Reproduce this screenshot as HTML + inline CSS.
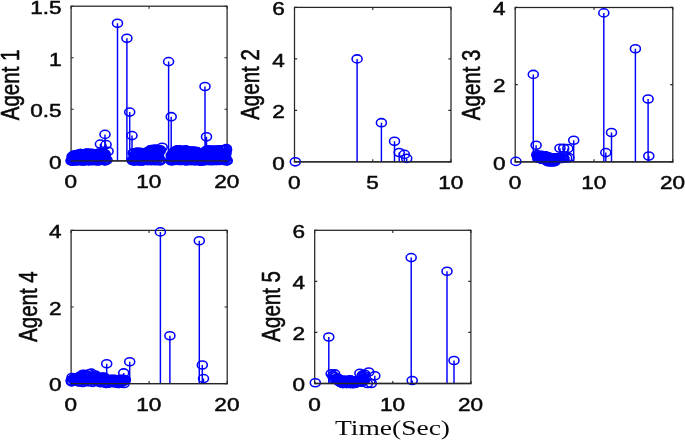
<!DOCTYPE html>
<html><head><meta charset="utf-8"><title>Agents</title>
<style>
html,body{margin:0;padding:0;background:#fff}
svg{display:block}
text{font-family:"Liberation Sans",Arial,Helvetica,sans-serif;font-size:18.5px;fill:#000;stroke:#000;stroke-width:0.5px}
.m{text-anchor:middle}.e{text-anchor:end}
.l{font-size:20.5px}
.s{font-family:"Liberation Serif","Times New Roman",serif;font-size:21.4px;stroke:none}
</style></head><body>
<svg width="685" height="440" viewBox="0 0 685 440">
<rect width="685" height="440" fill="#fff"/>
<g>
<rect x="71.1" y="6.2" width="156.0" height="154.7" fill="none" stroke="#262626" stroke-width="1.25"/>
<path d="M71.1 160.9v-2.6M71.1 6.2v2.6M149.1 160.9v-2.6M149.1 6.2v2.6M227.1 160.9v-2.6M227.1 6.2v2.6M71.1 160.9h2.6M227.1 160.9h-2.6M71.1 109.3h2.6M227.1 109.3h-2.6M71.1 57.8h2.6M227.1 57.8h-2.6M71.1 6.2h2.6M227.1 6.2h-2.6" stroke="#262626" stroke-width="1.1" fill="none"/>
<path d="M71.1 160.9V160.7M71.4 160.9V160.7M71.7 160.9V160.7M72.0 160.9V156.7M72.3 160.9V160.7M72.6 160.9V160.7M72.9 160.9V155.6M73.1 160.9V160.7M73.3 160.9V159.8M73.5 160.9V158.3M73.9 160.9V155.4M74.1 160.9V157.0M74.4 160.9V155.3M74.7 160.9V156.7M74.9 160.9V159.2M75.2 160.9V160.7M75.5 160.9V155.0M75.7 160.9V160.7M76.0 160.9V154.7M76.2 160.9V154.6M76.4 160.9V160.3M76.7 160.9V155.6M77.0 160.9V160.2M77.3 160.9V160.6M77.6 160.9V160.6M77.8 160.9V155.8M78.0 160.9V159.2M78.4 160.9V154.3M78.7 160.9V159.2M79.1 160.9V155.7M79.4 160.9V159.2M79.7 160.9V158.3M79.9 160.9V160.6M80.2 160.9V156.2M80.4 160.9V153.5M80.7 160.9V154.3M80.9 160.9V153.6M81.2 160.9V160.6M81.5 160.9V160.6M81.8 160.9V156.4M82.0 160.9V160.6M82.3 160.9V155.7M82.6 160.9V156.6M82.8 160.9V155.7M83.0 160.9V153.9M83.3 160.9V160.6M83.6 160.9V160.8M83.8 160.9V160.5M84.1 160.9V156.7M84.3 160.9V153.7M84.6 160.9V153.7M84.8 160.9V160.6M85.2 160.9V153.6M85.4 160.9V156.1M85.7 160.9V160.6M85.9 160.9V153.5M86.2 160.9V153.5M86.6 160.9V153.8M86.9 160.9V153.4M87.1 160.9V153.3M87.4 160.9V156.0M87.7 160.9V156.1M88.0 160.9V153.2M88.3 160.9V160.6M88.6 160.9V160.6M88.8 160.9V154.9M89.1 160.9V157.1M89.4 160.9V160.6M89.7 160.9V158.9M90.0 160.9V155.6M90.2 160.9V153.4M90.4 160.9V154.0M90.7 160.9V159.4M91.1 160.9V153.5M91.3 160.9V156.4M91.5 160.9V160.6M91.9 160.9V153.6M92.1 160.9V159.6M92.3 160.9V159.3M92.6 160.9V157.2M93.0 160.9V153.6M93.2 160.9V160.6M93.4 160.9V153.8M93.6 160.9V155.1M93.8 160.9V157.6M94.1 160.9V159.2M94.3 160.9V156.3M94.6 160.9V154.0M95.0 160.9V155.9M95.3 160.9V159.6M95.5 160.9V155.6M95.8 160.9V160.6M96.0 160.9V153.7M96.3 160.9V153.7M96.5 160.9V153.7M96.7 160.9V160.6M97.1 160.9V160.6M97.4 160.9V153.5M97.7 160.9V155.9M98.0 160.9V153.5M98.3 160.9V160.6M98.6 160.9V153.4M98.9 160.9V160.6M99.3 160.9V158.1M99.5 160.9V153.2M99.8 160.9V160.6M100.0 160.9V154.5M100.3 160.9V154.6M100.5 160.9V153.2M100.8 160.9V153.3M101.1 160.9V153.4M101.3 160.9V156.8M101.6 160.9V153.4M101.9 160.9V156.5M102.2 160.9V153.5M102.4 160.9V153.5M102.7 160.9V156.5M103.0 160.9V153.6M103.2 160.9V153.6M103.4 160.9V153.7M103.7 160.9V155.7M104.0 160.9V160.6M104.3 160.9V158.9M104.5 160.9V160.6M104.9 160.9V157.4M105.1 160.9V153.9M105.3 160.9V155.2M105.5 160.9V160.6M105.8 160.9V160.6M100.4 160.9V144.1M105.0 160.9V134.4M106.1 160.9V144.6M108.1 160.9V151.3M107.0 160.9V159.9M117.5 160.9V23.3M126.9 160.9V38.3M129.7 160.9V112.1M132.0 160.9V135.6M132.3 160.9V160.6M132.6 160.9V159.7M132.9 160.9V160.6M133.2 160.9V152.9M133.5 160.9V159.7M133.7 160.9V153.2M134.0 160.9V160.6M134.3 160.9V160.6M134.5 160.9V160.6M134.7 160.9V160.6M135.1 160.9V159.9M135.3 160.9V160.5M135.5 160.9V154.8M135.7 160.9V153.8M136.0 160.9V155.7M136.3 160.9V160.5M136.6 160.9V152.4M136.9 160.9V160.5M137.2 160.9V159.9M137.4 160.9V152.3M137.7 160.9V160.5M137.9 160.9V156.2M138.2 160.9V160.5M138.4 160.9V155.9M138.7 160.9V160.6M139.0 160.9V155.2M139.2 160.9V159.0M139.5 160.9V152.4M139.8 160.9V160.5M140.1 160.9V160.5M140.4 160.9V160.8M140.8 160.9V157.9M140.9 160.9V160.5M141.3 160.9V152.6M141.5 160.9V160.6M141.8 160.9V155.4M142.1 160.9V160.6M142.3 160.9V152.8M142.5 160.9V160.6M142.8 160.9V152.9M143.1 160.9V155.0M143.3 160.9V160.6M143.6 160.9V160.6M143.9 160.9V158.9M144.2 160.9V152.9M144.6 160.9V152.8M144.8 160.9V152.7M145.2 160.9V155.9M145.4 160.9V152.6M145.6 160.9V152.6M145.9 160.9V152.5M146.2 160.9V153.9M146.4 160.9V157.8M146.8 160.9V152.3M147.1 160.9V160.5M147.4 160.9V157.3M147.6 160.9V160.5M147.8 160.9V160.1M148.1 160.9V152.0M148.5 160.9V157.4M148.8 160.9V156.6M149.1 160.9V157.5M149.3 160.9V151.1M149.6 160.9V157.9M149.8 160.9V160.5M150.1 160.9V153.1M150.4 160.9V149.8M150.6 160.9V160.4M150.9 160.9V160.4M151.2 160.9V160.4M151.5 160.9V149.5M151.8 160.9V160.4M152.1 160.9V154.9M152.3 160.9V159.3M152.6 160.9V157.9M152.9 160.9V160.4M153.2 160.9V160.4M153.5 160.9V157.0M153.8 160.9V149.3M154.2 160.9V160.4M154.4 160.9V156.0M154.7 160.9V160.4M154.9 160.9V158.4M155.2 160.9V154.6M155.6 160.9V149.2M155.8 160.9V152.0M156.0 160.9V149.2M156.2 160.9V150.2M156.5 160.9V160.7M156.7 160.9V152.3M156.9 160.9V158.7M157.3 160.9V153.6M157.6 160.9V154.5M157.8 160.9V149.5M158.1 160.9V153.4M158.4 160.9V156.3M158.7 160.9V152.5M159.0 160.9V160.4M159.3 160.9V149.8M159.6 160.9V160.4M159.9 160.9V151.2M160.1 160.9V159.7M160.3 160.9V160.8M160.5 160.9V150.0M162.2 160.9V147.2M168.6 160.9V61.6M171.2 160.9V116.7M170.9 160.9V160.7M171.2 160.9V155.4M171.5 160.9V159.9M171.8 160.9V160.6M172.0 160.9V158.7M172.3 160.9V156.2M172.6 160.9V160.6M172.9 160.9V153.0M173.2 160.9V152.7M173.4 160.9V153.4M173.8 160.9V155.7M174.0 160.9V156.8M174.2 160.9V151.6M174.6 160.9V151.3M174.9 160.9V160.5M175.2 160.9V159.1M175.4 160.9V158.2M175.7 160.9V156.7M176.0 160.9V158.4M176.2 160.9V156.9M176.5 160.9V150.4M176.8 160.9V150.5M177.0 160.9V150.2M177.3 160.9V159.1M177.7 160.9V149.9M177.9 160.9V151.1M178.2 160.9V160.4M178.5 160.9V152.6M178.8 160.9V149.9M179.0 160.9V152.5M179.3 160.9V160.4M179.5 160.9V158.3M179.8 160.9V149.9M180.0 160.9V155.9M180.2 160.9V160.4M180.4 160.9V157.5M180.7 160.9V160.0M180.9 160.9V151.4M181.2 160.9V160.4M181.4 160.9V160.4M181.7 160.9V160.4M182.0 160.9V152.5M182.3 160.9V151.3M182.6 160.9V156.9M182.9 160.9V158.6M183.1 160.9V156.4M183.4 160.9V154.2M183.7 160.9V158.8M184.0 160.9V157.2M184.2 160.9V160.5M184.4 160.9V151.7M184.7 160.9V156.6M184.9 160.9V156.9M185.2 160.9V149.9M185.5 160.9V160.5M185.8 160.9V150.3M186.0 160.9V160.8M186.3 160.9V159.3M186.5 160.9V160.5M186.8 160.9V150.5M187.1 160.9V150.5M187.4 160.9V150.6M187.7 160.9V151.3M187.9 160.9V150.7M188.2 160.9V160.5M188.4 160.9V160.0M188.6 160.9V153.2M189.0 160.9V150.8M189.3 160.9V160.5M189.6 160.9V153.5M189.9 160.9V159.8M190.3 160.9V156.1M190.6 160.9V156.3M190.8 160.9V158.3M191.1 160.9V160.5M191.5 160.9V160.5M191.8 160.9V156.0M192.0 160.9V151.2M192.3 160.9V157.1M192.5 160.9V155.2M192.8 160.9V159.1M193.1 160.9V160.5M193.4 160.9V151.3M193.6 160.9V151.3M193.9 160.9V151.4M194.2 160.9V160.5M194.4 160.9V160.5M194.8 160.9V158.4M195.0 160.9V160.5M195.2 160.9V160.5M195.5 160.9V158.7M195.8 160.9V160.5M196.1 160.9V160.5M196.4 160.9V151.5M196.8 160.9V151.6M197.0 160.9V158.5M197.3 160.9V155.5M197.6 160.9V152.6M198.0 160.9V153.6M198.3 160.9V160.6M198.5 160.9V153.8M198.9 160.9V160.6M199.2 160.9V156.2M199.4 160.9V157.7M199.8 160.9V154.9M200.0 160.9V160.7M200.3 160.9V160.4M200.5 160.9V158.9M200.9 160.9V160.7M201.1 160.9V160.7M201.3 160.9V160.2M201.5 160.9V158.5M201.8 160.9V160.7M202.0 160.9V160.7M202.3 160.9V154.7M202.6 160.9V154.3M202.8 160.9V160.6M203.1 160.9V153.6M203.3 160.9V155.3M203.6 160.9V158.9M203.9 160.9V152.5M204.1 160.9V154.4M204.4 160.9V160.5M204.7 160.9V160.5M205.0 160.9V157.7M205.2 160.9V160.5M205.5 160.9V160.5M205.8 160.9V157.3M205.9 160.9V151.3M206.1 160.9V150.5M206.4 160.9V156.3M206.6 160.9V155.2M206.8 160.9V151.0M207.1 160.9V150.4M207.3 160.9V150.4M207.6 160.9V150.4M207.9 160.9V152.5M208.1 160.9V150.4M208.4 160.9V160.5M208.6 160.9V156.2M208.9 160.9V160.5M209.2 160.9V150.3M209.5 160.9V150.3M209.8 160.9V150.3M210.1 160.9V154.8M210.3 160.9V156.1M210.6 160.9V160.4M211.0 160.9V160.5M211.2 160.9V152.3M211.5 160.9V160.3M211.8 160.9V150.2M212.0 160.9V160.5M212.3 160.9V150.2M212.6 160.9V151.1M212.9 160.9V160.4M213.2 160.9V160.4M213.5 160.9V155.2M213.8 160.9V153.7M214.0 160.9V160.4M214.3 160.9V155.6M214.7 160.9V160.4M214.9 160.9V150.0M215.3 160.9V152.7M215.5 160.9V160.4M215.9 160.9V153.3M216.2 160.9V158.1M216.4 160.9V152.7M216.7 160.9V160.4M216.9 160.9V160.4M217.2 160.9V150.0M217.5 160.9V160.4M217.8 160.9V158.9M218.1 160.9V150.0M218.4 160.9V154.4M218.7 160.9V155.1M219.0 160.9V158.1M219.2 160.9V152.3M219.5 160.9V160.4M219.8 160.9V160.4M220.1 160.9V158.4M220.4 160.9V149.9M220.6 160.9V149.9M220.8 160.9V158.1M221.1 160.9V157.8M221.5 160.9V155.8M221.8 160.9V159.6M222.1 160.9V149.9M222.3 160.9V149.9M222.6 160.9V152.7M222.9 160.9V149.9M223.2 160.9V160.4M223.5 160.9V149.9M223.8 160.9V150.0M224.1 160.9V160.4M224.4 160.9V160.4M224.6 160.9V158.6M224.9 160.9V156.5M225.2 160.9V149.7M225.5 160.9V156.0M225.8 160.9V158.5M226.1 160.9V153.1M226.4 160.9V160.7M226.6 160.9V149.8M227.0 160.9V160.4M205.0 160.9V86.5M206.5 160.9V136.8M227.1 160.9V160.9M226.3 160.9V148.5" stroke="#0000ff" stroke-width="1.45" fill="none"/>
<g fill="none" stroke="#0000ff" stroke-width="1.55"><ellipse cx="71.1" cy="160.7" rx="5" ry="4.05"/><ellipse cx="71.4" cy="160.7" rx="5" ry="4.05"/><ellipse cx="71.7" cy="160.7" rx="5" ry="4.05"/><ellipse cx="72.0" cy="156.7" rx="5" ry="4.05"/><ellipse cx="72.3" cy="160.7" rx="5" ry="4.05"/><ellipse cx="72.6" cy="160.7" rx="5" ry="4.05"/><ellipse cx="72.9" cy="155.6" rx="5" ry="4.05"/><ellipse cx="73.1" cy="160.7" rx="5" ry="4.05"/><ellipse cx="73.3" cy="159.8" rx="5" ry="4.05"/><ellipse cx="73.5" cy="158.3" rx="5" ry="4.05"/><ellipse cx="73.9" cy="155.4" rx="5" ry="4.05"/><ellipse cx="74.1" cy="157.0" rx="5" ry="4.05"/><ellipse cx="74.4" cy="155.3" rx="5" ry="4.05"/><ellipse cx="74.7" cy="156.7" rx="5" ry="4.05"/><ellipse cx="74.9" cy="159.2" rx="5" ry="4.05"/><ellipse cx="75.2" cy="160.7" rx="5" ry="4.05"/><ellipse cx="75.5" cy="155.0" rx="5" ry="4.05"/><ellipse cx="75.7" cy="160.7" rx="5" ry="4.05"/><ellipse cx="76.0" cy="154.7" rx="5" ry="4.05"/><ellipse cx="76.2" cy="154.6" rx="5" ry="4.05"/><ellipse cx="76.4" cy="160.3" rx="5" ry="4.05"/><ellipse cx="76.7" cy="155.6" rx="5" ry="4.05"/><ellipse cx="77.0" cy="160.2" rx="5" ry="4.05"/><ellipse cx="77.3" cy="160.6" rx="5" ry="4.05"/><ellipse cx="77.6" cy="160.6" rx="5" ry="4.05"/><ellipse cx="77.8" cy="155.8" rx="5" ry="4.05"/><ellipse cx="78.0" cy="159.2" rx="5" ry="4.05"/><ellipse cx="78.4" cy="154.3" rx="5" ry="4.05"/><ellipse cx="78.7" cy="159.2" rx="5" ry="4.05"/><ellipse cx="79.1" cy="155.7" rx="5" ry="4.05"/><ellipse cx="79.4" cy="159.2" rx="5" ry="4.05"/><ellipse cx="79.7" cy="158.3" rx="5" ry="4.05"/><ellipse cx="79.9" cy="160.6" rx="5" ry="4.05"/><ellipse cx="80.2" cy="156.2" rx="5" ry="4.05"/><ellipse cx="80.4" cy="153.5" rx="5" ry="4.05"/><ellipse cx="80.7" cy="154.3" rx="5" ry="4.05"/><ellipse cx="80.9" cy="153.6" rx="5" ry="4.05"/><ellipse cx="81.2" cy="160.6" rx="5" ry="4.05"/><ellipse cx="81.5" cy="160.6" rx="5" ry="4.05"/><ellipse cx="81.8" cy="156.4" rx="5" ry="4.05"/><ellipse cx="82.0" cy="160.6" rx="5" ry="4.05"/><ellipse cx="82.3" cy="155.7" rx="5" ry="4.05"/><ellipse cx="82.6" cy="156.6" rx="5" ry="4.05"/><ellipse cx="82.8" cy="155.7" rx="5" ry="4.05"/><ellipse cx="83.0" cy="153.9" rx="5" ry="4.05"/><ellipse cx="83.3" cy="160.6" rx="5" ry="4.05"/><ellipse cx="83.6" cy="160.8" rx="5" ry="4.05"/><ellipse cx="83.8" cy="160.5" rx="5" ry="4.05"/><ellipse cx="84.1" cy="156.7" rx="5" ry="4.05"/><ellipse cx="84.3" cy="153.7" rx="5" ry="4.05"/><ellipse cx="84.6" cy="153.7" rx="5" ry="4.05"/><ellipse cx="84.8" cy="160.6" rx="5" ry="4.05"/><ellipse cx="85.2" cy="153.6" rx="5" ry="4.05"/><ellipse cx="85.4" cy="156.1" rx="5" ry="4.05"/><ellipse cx="85.7" cy="160.6" rx="5" ry="4.05"/><ellipse cx="85.9" cy="153.5" rx="5" ry="4.05"/><ellipse cx="86.2" cy="153.5" rx="5" ry="4.05"/><ellipse cx="86.6" cy="153.8" rx="5" ry="4.05"/><ellipse cx="86.9" cy="153.4" rx="5" ry="4.05"/><ellipse cx="87.1" cy="153.3" rx="5" ry="4.05"/><ellipse cx="87.4" cy="156.0" rx="5" ry="4.05"/><ellipse cx="87.7" cy="156.1" rx="5" ry="4.05"/><ellipse cx="88.0" cy="153.2" rx="5" ry="4.05"/><ellipse cx="88.3" cy="160.6" rx="5" ry="4.05"/><ellipse cx="88.6" cy="160.6" rx="5" ry="4.05"/><ellipse cx="88.8" cy="154.9" rx="5" ry="4.05"/><ellipse cx="89.1" cy="157.1" rx="5" ry="4.05"/><ellipse cx="89.4" cy="160.6" rx="5" ry="4.05"/><ellipse cx="89.7" cy="158.9" rx="5" ry="4.05"/><ellipse cx="90.0" cy="155.6" rx="5" ry="4.05"/><ellipse cx="90.2" cy="153.4" rx="5" ry="4.05"/><ellipse cx="90.4" cy="154.0" rx="5" ry="4.05"/><ellipse cx="90.7" cy="159.4" rx="5" ry="4.05"/><ellipse cx="91.1" cy="153.5" rx="5" ry="4.05"/><ellipse cx="91.3" cy="156.4" rx="5" ry="4.05"/><ellipse cx="91.5" cy="160.6" rx="5" ry="4.05"/><ellipse cx="91.9" cy="153.6" rx="5" ry="4.05"/><ellipse cx="92.1" cy="159.6" rx="5" ry="4.05"/><ellipse cx="92.3" cy="159.3" rx="5" ry="4.05"/><ellipse cx="92.6" cy="157.2" rx="5" ry="4.05"/><ellipse cx="93.0" cy="153.6" rx="5" ry="4.05"/><ellipse cx="93.2" cy="160.6" rx="5" ry="4.05"/><ellipse cx="93.4" cy="153.8" rx="5" ry="4.05"/><ellipse cx="93.6" cy="155.1" rx="5" ry="4.05"/><ellipse cx="93.8" cy="157.6" rx="5" ry="4.05"/><ellipse cx="94.1" cy="159.2" rx="5" ry="4.05"/><ellipse cx="94.3" cy="156.3" rx="5" ry="4.05"/><ellipse cx="94.6" cy="154.0" rx="5" ry="4.05"/><ellipse cx="95.0" cy="155.9" rx="5" ry="4.05"/><ellipse cx="95.3" cy="159.6" rx="5" ry="4.05"/><ellipse cx="95.5" cy="155.6" rx="5" ry="4.05"/><ellipse cx="95.8" cy="160.6" rx="5" ry="4.05"/><ellipse cx="96.0" cy="153.7" rx="5" ry="4.05"/><ellipse cx="96.3" cy="153.7" rx="5" ry="4.05"/><ellipse cx="96.5" cy="153.7" rx="5" ry="4.05"/><ellipse cx="96.7" cy="160.6" rx="5" ry="4.05"/><ellipse cx="97.1" cy="160.6" rx="5" ry="4.05"/><ellipse cx="97.4" cy="153.5" rx="5" ry="4.05"/><ellipse cx="97.7" cy="155.9" rx="5" ry="4.05"/><ellipse cx="98.0" cy="153.5" rx="5" ry="4.05"/><ellipse cx="98.3" cy="160.6" rx="5" ry="4.05"/><ellipse cx="98.6" cy="153.4" rx="5" ry="4.05"/><ellipse cx="98.9" cy="160.6" rx="5" ry="4.05"/><ellipse cx="99.3" cy="158.1" rx="5" ry="4.05"/><ellipse cx="99.5" cy="153.2" rx="5" ry="4.05"/><ellipse cx="99.8" cy="160.6" rx="5" ry="4.05"/><ellipse cx="100.0" cy="154.5" rx="5" ry="4.05"/><ellipse cx="100.3" cy="154.6" rx="5" ry="4.05"/><ellipse cx="100.5" cy="153.2" rx="5" ry="4.05"/><ellipse cx="100.8" cy="153.3" rx="5" ry="4.05"/><ellipse cx="101.1" cy="153.4" rx="5" ry="4.05"/><ellipse cx="101.3" cy="156.8" rx="5" ry="4.05"/><ellipse cx="101.6" cy="153.4" rx="5" ry="4.05"/><ellipse cx="101.9" cy="156.5" rx="5" ry="4.05"/><ellipse cx="102.2" cy="153.5" rx="5" ry="4.05"/><ellipse cx="102.4" cy="153.5" rx="5" ry="4.05"/><ellipse cx="102.7" cy="156.5" rx="5" ry="4.05"/><ellipse cx="103.0" cy="153.6" rx="5" ry="4.05"/><ellipse cx="103.2" cy="153.6" rx="5" ry="4.05"/><ellipse cx="103.4" cy="153.7" rx="5" ry="4.05"/><ellipse cx="103.7" cy="155.7" rx="5" ry="4.05"/><ellipse cx="104.0" cy="160.6" rx="5" ry="4.05"/><ellipse cx="104.3" cy="158.9" rx="5" ry="4.05"/><ellipse cx="104.5" cy="160.6" rx="5" ry="4.05"/><ellipse cx="104.9" cy="157.4" rx="5" ry="4.05"/><ellipse cx="105.1" cy="153.9" rx="5" ry="4.05"/><ellipse cx="105.3" cy="155.2" rx="5" ry="4.05"/><ellipse cx="105.5" cy="160.6" rx="5" ry="4.05"/><ellipse cx="105.8" cy="160.6" rx="5" ry="4.05"/><ellipse cx="100.4" cy="144.1" rx="5" ry="4.05"/><ellipse cx="105.0" cy="134.4" rx="5" ry="4.05"/><ellipse cx="106.1" cy="144.6" rx="5" ry="4.05"/><ellipse cx="108.1" cy="151.3" rx="5" ry="4.05"/><ellipse cx="107.0" cy="159.9" rx="5" ry="4.05"/><ellipse cx="117.5" cy="23.3" rx="5" ry="4.05"/><ellipse cx="126.9" cy="38.3" rx="5" ry="4.05"/><ellipse cx="129.7" cy="112.1" rx="5" ry="4.05"/><ellipse cx="132.0" cy="135.6" rx="5" ry="4.05"/><ellipse cx="132.3" cy="160.6" rx="5" ry="4.05"/><ellipse cx="132.6" cy="159.7" rx="5" ry="4.05"/><ellipse cx="132.9" cy="160.6" rx="5" ry="4.05"/><ellipse cx="133.2" cy="152.9" rx="5" ry="4.05"/><ellipse cx="133.5" cy="159.7" rx="5" ry="4.05"/><ellipse cx="133.7" cy="153.2" rx="5" ry="4.05"/><ellipse cx="134.0" cy="160.6" rx="5" ry="4.05"/><ellipse cx="134.3" cy="160.6" rx="5" ry="4.05"/><ellipse cx="134.5" cy="160.6" rx="5" ry="4.05"/><ellipse cx="134.7" cy="160.6" rx="5" ry="4.05"/><ellipse cx="135.1" cy="159.9" rx="5" ry="4.05"/><ellipse cx="135.3" cy="160.5" rx="5" ry="4.05"/><ellipse cx="135.5" cy="154.8" rx="5" ry="4.05"/><ellipse cx="135.7" cy="153.8" rx="5" ry="4.05"/><ellipse cx="136.0" cy="155.7" rx="5" ry="4.05"/><ellipse cx="136.3" cy="160.5" rx="5" ry="4.05"/><ellipse cx="136.6" cy="152.4" rx="5" ry="4.05"/><ellipse cx="136.9" cy="160.5" rx="5" ry="4.05"/><ellipse cx="137.2" cy="159.9" rx="5" ry="4.05"/><ellipse cx="137.4" cy="152.3" rx="5" ry="4.05"/><ellipse cx="137.7" cy="160.5" rx="5" ry="4.05"/><ellipse cx="137.9" cy="156.2" rx="5" ry="4.05"/><ellipse cx="138.2" cy="160.5" rx="5" ry="4.05"/><ellipse cx="138.4" cy="155.9" rx="5" ry="4.05"/><ellipse cx="138.7" cy="160.6" rx="5" ry="4.05"/><ellipse cx="139.0" cy="155.2" rx="5" ry="4.05"/><ellipse cx="139.2" cy="159.0" rx="5" ry="4.05"/><ellipse cx="139.5" cy="152.4" rx="5" ry="4.05"/><ellipse cx="139.8" cy="160.5" rx="5" ry="4.05"/><ellipse cx="140.1" cy="160.5" rx="5" ry="4.05"/><ellipse cx="140.4" cy="160.8" rx="5" ry="4.05"/><ellipse cx="140.8" cy="157.9" rx="5" ry="4.05"/><ellipse cx="140.9" cy="160.5" rx="5" ry="4.05"/><ellipse cx="141.3" cy="152.6" rx="5" ry="4.05"/><ellipse cx="141.5" cy="160.6" rx="5" ry="4.05"/><ellipse cx="141.8" cy="155.4" rx="5" ry="4.05"/><ellipse cx="142.1" cy="160.6" rx="5" ry="4.05"/><ellipse cx="142.3" cy="152.8" rx="5" ry="4.05"/><ellipse cx="142.5" cy="160.6" rx="5" ry="4.05"/><ellipse cx="142.8" cy="152.9" rx="5" ry="4.05"/><ellipse cx="143.1" cy="155.0" rx="5" ry="4.05"/><ellipse cx="143.3" cy="160.6" rx="5" ry="4.05"/><ellipse cx="143.6" cy="160.6" rx="5" ry="4.05"/><ellipse cx="143.9" cy="158.9" rx="5" ry="4.05"/><ellipse cx="144.2" cy="152.9" rx="5" ry="4.05"/><ellipse cx="144.6" cy="152.8" rx="5" ry="4.05"/><ellipse cx="144.8" cy="152.7" rx="5" ry="4.05"/><ellipse cx="145.2" cy="155.9" rx="5" ry="4.05"/><ellipse cx="145.4" cy="152.6" rx="5" ry="4.05"/><ellipse cx="145.6" cy="152.6" rx="5" ry="4.05"/><ellipse cx="145.9" cy="152.5" rx="5" ry="4.05"/><ellipse cx="146.2" cy="153.9" rx="5" ry="4.05"/><ellipse cx="146.4" cy="157.8" rx="5" ry="4.05"/><ellipse cx="146.8" cy="152.3" rx="5" ry="4.05"/><ellipse cx="147.1" cy="160.5" rx="5" ry="4.05"/><ellipse cx="147.4" cy="157.3" rx="5" ry="4.05"/><ellipse cx="147.6" cy="160.5" rx="5" ry="4.05"/><ellipse cx="147.8" cy="160.1" rx="5" ry="4.05"/><ellipse cx="148.1" cy="152.0" rx="5" ry="4.05"/><ellipse cx="148.5" cy="157.4" rx="5" ry="4.05"/><ellipse cx="148.8" cy="156.6" rx="5" ry="4.05"/><ellipse cx="149.1" cy="157.5" rx="5" ry="4.05"/><ellipse cx="149.3" cy="151.1" rx="5" ry="4.05"/><ellipse cx="149.6" cy="157.9" rx="5" ry="4.05"/><ellipse cx="149.8" cy="160.5" rx="5" ry="4.05"/><ellipse cx="150.1" cy="153.1" rx="5" ry="4.05"/><ellipse cx="150.4" cy="149.8" rx="5" ry="4.05"/><ellipse cx="150.6" cy="160.4" rx="5" ry="4.05"/><ellipse cx="150.9" cy="160.4" rx="5" ry="4.05"/><ellipse cx="151.2" cy="160.4" rx="5" ry="4.05"/><ellipse cx="151.5" cy="149.5" rx="5" ry="4.05"/><ellipse cx="151.8" cy="160.4" rx="5" ry="4.05"/><ellipse cx="152.1" cy="154.9" rx="5" ry="4.05"/><ellipse cx="152.3" cy="159.3" rx="5" ry="4.05"/><ellipse cx="152.6" cy="157.9" rx="5" ry="4.05"/><ellipse cx="152.9" cy="160.4" rx="5" ry="4.05"/><ellipse cx="153.2" cy="160.4" rx="5" ry="4.05"/><ellipse cx="153.5" cy="157.0" rx="5" ry="4.05"/><ellipse cx="153.8" cy="149.3" rx="5" ry="4.05"/><ellipse cx="154.2" cy="160.4" rx="5" ry="4.05"/><ellipse cx="154.4" cy="156.0" rx="5" ry="4.05"/><ellipse cx="154.7" cy="160.4" rx="5" ry="4.05"/><ellipse cx="154.9" cy="158.4" rx="5" ry="4.05"/><ellipse cx="155.2" cy="154.6" rx="5" ry="4.05"/><ellipse cx="155.6" cy="149.2" rx="5" ry="4.05"/><ellipse cx="155.8" cy="152.0" rx="5" ry="4.05"/><ellipse cx="156.0" cy="149.2" rx="5" ry="4.05"/><ellipse cx="156.2" cy="150.2" rx="5" ry="4.05"/><ellipse cx="156.5" cy="160.7" rx="5" ry="4.05"/><ellipse cx="156.7" cy="152.3" rx="5" ry="4.05"/><ellipse cx="156.9" cy="158.7" rx="5" ry="4.05"/><ellipse cx="157.3" cy="153.6" rx="5" ry="4.05"/><ellipse cx="157.6" cy="154.5" rx="5" ry="4.05"/><ellipse cx="157.8" cy="149.5" rx="5" ry="4.05"/><ellipse cx="158.1" cy="153.4" rx="5" ry="4.05"/><ellipse cx="158.4" cy="156.3" rx="5" ry="4.05"/><ellipse cx="158.7" cy="152.5" rx="5" ry="4.05"/><ellipse cx="159.0" cy="160.4" rx="5" ry="4.05"/><ellipse cx="159.3" cy="149.8" rx="5" ry="4.05"/><ellipse cx="159.6" cy="160.4" rx="5" ry="4.05"/><ellipse cx="159.9" cy="151.2" rx="5" ry="4.05"/><ellipse cx="160.1" cy="159.7" rx="5" ry="4.05"/><ellipse cx="160.3" cy="160.8" rx="5" ry="4.05"/><ellipse cx="160.5" cy="150.0" rx="5" ry="4.05"/><ellipse cx="162.2" cy="147.2" rx="5" ry="4.05"/><ellipse cx="168.6" cy="61.6" rx="5" ry="4.05"/><ellipse cx="171.2" cy="116.7" rx="5" ry="4.05"/><ellipse cx="170.9" cy="160.7" rx="5" ry="4.05"/><ellipse cx="171.2" cy="155.4" rx="5" ry="4.05"/><ellipse cx="171.5" cy="159.9" rx="5" ry="4.05"/><ellipse cx="171.8" cy="160.6" rx="5" ry="4.05"/><ellipse cx="172.0" cy="158.7" rx="5" ry="4.05"/><ellipse cx="172.3" cy="156.2" rx="5" ry="4.05"/><ellipse cx="172.6" cy="160.6" rx="5" ry="4.05"/><ellipse cx="172.9" cy="153.0" rx="5" ry="4.05"/><ellipse cx="173.2" cy="152.7" rx="5" ry="4.05"/><ellipse cx="173.4" cy="153.4" rx="5" ry="4.05"/><ellipse cx="173.8" cy="155.7" rx="5" ry="4.05"/><ellipse cx="174.0" cy="156.8" rx="5" ry="4.05"/><ellipse cx="174.2" cy="151.6" rx="5" ry="4.05"/><ellipse cx="174.6" cy="151.3" rx="5" ry="4.05"/><ellipse cx="174.9" cy="160.5" rx="5" ry="4.05"/><ellipse cx="175.2" cy="159.1" rx="5" ry="4.05"/><ellipse cx="175.4" cy="158.2" rx="5" ry="4.05"/><ellipse cx="175.7" cy="156.7" rx="5" ry="4.05"/><ellipse cx="176.0" cy="158.4" rx="5" ry="4.05"/><ellipse cx="176.2" cy="156.9" rx="5" ry="4.05"/><ellipse cx="176.5" cy="150.4" rx="5" ry="4.05"/><ellipse cx="176.8" cy="150.5" rx="5" ry="4.05"/><ellipse cx="177.0" cy="150.2" rx="5" ry="4.05"/><ellipse cx="177.3" cy="159.1" rx="5" ry="4.05"/><ellipse cx="177.7" cy="149.9" rx="5" ry="4.05"/><ellipse cx="177.9" cy="151.1" rx="5" ry="4.05"/><ellipse cx="178.2" cy="160.4" rx="5" ry="4.05"/><ellipse cx="178.5" cy="152.6" rx="5" ry="4.05"/><ellipse cx="178.8" cy="149.9" rx="5" ry="4.05"/><ellipse cx="179.0" cy="152.5" rx="5" ry="4.05"/><ellipse cx="179.3" cy="160.4" rx="5" ry="4.05"/><ellipse cx="179.5" cy="158.3" rx="5" ry="4.05"/><ellipse cx="179.8" cy="149.9" rx="5" ry="4.05"/><ellipse cx="180.0" cy="155.9" rx="5" ry="4.05"/><ellipse cx="180.2" cy="160.4" rx="5" ry="4.05"/><ellipse cx="180.4" cy="157.5" rx="5" ry="4.05"/><ellipse cx="180.7" cy="160.0" rx="5" ry="4.05"/><ellipse cx="180.9" cy="151.4" rx="5" ry="4.05"/><ellipse cx="181.2" cy="160.4" rx="5" ry="4.05"/><ellipse cx="181.4" cy="160.4" rx="5" ry="4.05"/><ellipse cx="181.7" cy="160.4" rx="5" ry="4.05"/><ellipse cx="182.0" cy="152.5" rx="5" ry="4.05"/><ellipse cx="182.3" cy="151.3" rx="5" ry="4.05"/><ellipse cx="182.6" cy="156.9" rx="5" ry="4.05"/><ellipse cx="182.9" cy="158.6" rx="5" ry="4.05"/><ellipse cx="183.1" cy="156.4" rx="5" ry="4.05"/><ellipse cx="183.4" cy="154.2" rx="5" ry="4.05"/><ellipse cx="183.7" cy="158.8" rx="5" ry="4.05"/><ellipse cx="184.0" cy="157.2" rx="5" ry="4.05"/><ellipse cx="184.2" cy="160.5" rx="5" ry="4.05"/><ellipse cx="184.4" cy="151.7" rx="5" ry="4.05"/><ellipse cx="184.7" cy="156.6" rx="5" ry="4.05"/><ellipse cx="184.9" cy="156.9" rx="5" ry="4.05"/><ellipse cx="185.2" cy="149.9" rx="5" ry="4.05"/><ellipse cx="185.5" cy="160.5" rx="5" ry="4.05"/><ellipse cx="185.8" cy="150.3" rx="5" ry="4.05"/><ellipse cx="186.0" cy="160.8" rx="5" ry="4.05"/><ellipse cx="186.3" cy="159.3" rx="5" ry="4.05"/><ellipse cx="186.5" cy="160.5" rx="5" ry="4.05"/><ellipse cx="186.8" cy="150.5" rx="5" ry="4.05"/><ellipse cx="187.1" cy="150.5" rx="5" ry="4.05"/><ellipse cx="187.4" cy="150.6" rx="5" ry="4.05"/><ellipse cx="187.7" cy="151.3" rx="5" ry="4.05"/><ellipse cx="187.9" cy="150.7" rx="5" ry="4.05"/><ellipse cx="188.2" cy="160.5" rx="5" ry="4.05"/><ellipse cx="188.4" cy="160.0" rx="5" ry="4.05"/><ellipse cx="188.6" cy="153.2" rx="5" ry="4.05"/><ellipse cx="189.0" cy="150.8" rx="5" ry="4.05"/><ellipse cx="189.3" cy="160.5" rx="5" ry="4.05"/><ellipse cx="189.6" cy="153.5" rx="5" ry="4.05"/><ellipse cx="189.9" cy="159.8" rx="5" ry="4.05"/><ellipse cx="190.3" cy="156.1" rx="5" ry="4.05"/><ellipse cx="190.6" cy="156.3" rx="5" ry="4.05"/><ellipse cx="190.8" cy="158.3" rx="5" ry="4.05"/><ellipse cx="191.1" cy="160.5" rx="5" ry="4.05"/><ellipse cx="191.5" cy="160.5" rx="5" ry="4.05"/><ellipse cx="191.8" cy="156.0" rx="5" ry="4.05"/><ellipse cx="192.0" cy="151.2" rx="5" ry="4.05"/><ellipse cx="192.3" cy="157.1" rx="5" ry="4.05"/><ellipse cx="192.5" cy="155.2" rx="5" ry="4.05"/><ellipse cx="192.8" cy="159.1" rx="5" ry="4.05"/><ellipse cx="193.1" cy="160.5" rx="5" ry="4.05"/><ellipse cx="193.4" cy="151.3" rx="5" ry="4.05"/><ellipse cx="193.6" cy="151.3" rx="5" ry="4.05"/><ellipse cx="193.9" cy="151.4" rx="5" ry="4.05"/><ellipse cx="194.2" cy="160.5" rx="5" ry="4.05"/><ellipse cx="194.4" cy="160.5" rx="5" ry="4.05"/><ellipse cx="194.8" cy="158.4" rx="5" ry="4.05"/><ellipse cx="195.0" cy="160.5" rx="5" ry="4.05"/><ellipse cx="195.2" cy="160.5" rx="5" ry="4.05"/><ellipse cx="195.5" cy="158.7" rx="5" ry="4.05"/><ellipse cx="195.8" cy="160.5" rx="5" ry="4.05"/><ellipse cx="196.1" cy="160.5" rx="5" ry="4.05"/><ellipse cx="196.4" cy="151.5" rx="5" ry="4.05"/><ellipse cx="196.8" cy="151.6" rx="5" ry="4.05"/><ellipse cx="197.0" cy="158.5" rx="5" ry="4.05"/><ellipse cx="197.3" cy="155.5" rx="5" ry="4.05"/><ellipse cx="197.6" cy="152.6" rx="5" ry="4.05"/><ellipse cx="198.0" cy="153.6" rx="5" ry="4.05"/><ellipse cx="198.3" cy="160.6" rx="5" ry="4.05"/><ellipse cx="198.5" cy="153.8" rx="5" ry="4.05"/><ellipse cx="198.9" cy="160.6" rx="5" ry="4.05"/><ellipse cx="199.2" cy="156.2" rx="5" ry="4.05"/><ellipse cx="199.4" cy="157.7" rx="5" ry="4.05"/><ellipse cx="199.8" cy="154.9" rx="5" ry="4.05"/><ellipse cx="200.0" cy="160.7" rx="5" ry="4.05"/><ellipse cx="200.3" cy="160.4" rx="5" ry="4.05"/><ellipse cx="200.5" cy="158.9" rx="5" ry="4.05"/><ellipse cx="200.9" cy="160.7" rx="5" ry="4.05"/><ellipse cx="201.1" cy="160.7" rx="5" ry="4.05"/><ellipse cx="201.3" cy="160.2" rx="5" ry="4.05"/><ellipse cx="201.5" cy="158.5" rx="5" ry="4.05"/><ellipse cx="201.8" cy="160.7" rx="5" ry="4.05"/><ellipse cx="202.0" cy="160.7" rx="5" ry="4.05"/><ellipse cx="202.3" cy="154.7" rx="5" ry="4.05"/><ellipse cx="202.6" cy="154.3" rx="5" ry="4.05"/><ellipse cx="202.8" cy="160.6" rx="5" ry="4.05"/><ellipse cx="203.1" cy="153.6" rx="5" ry="4.05"/><ellipse cx="203.3" cy="155.3" rx="5" ry="4.05"/><ellipse cx="203.6" cy="158.9" rx="5" ry="4.05"/><ellipse cx="203.9" cy="152.5" rx="5" ry="4.05"/><ellipse cx="204.1" cy="154.4" rx="5" ry="4.05"/><ellipse cx="204.4" cy="160.5" rx="5" ry="4.05"/><ellipse cx="204.7" cy="160.5" rx="5" ry="4.05"/><ellipse cx="205.0" cy="157.7" rx="5" ry="4.05"/><ellipse cx="205.2" cy="160.5" rx="5" ry="4.05"/><ellipse cx="205.5" cy="160.5" rx="5" ry="4.05"/><ellipse cx="205.8" cy="157.3" rx="5" ry="4.05"/><ellipse cx="205.9" cy="151.3" rx="5" ry="4.05"/><ellipse cx="206.1" cy="150.5" rx="5" ry="4.05"/><ellipse cx="206.4" cy="156.3" rx="5" ry="4.05"/><ellipse cx="206.6" cy="155.2" rx="5" ry="4.05"/><ellipse cx="206.8" cy="151.0" rx="5" ry="4.05"/><ellipse cx="207.1" cy="150.4" rx="5" ry="4.05"/><ellipse cx="207.3" cy="150.4" rx="5" ry="4.05"/><ellipse cx="207.6" cy="150.4" rx="5" ry="4.05"/><ellipse cx="207.9" cy="152.5" rx="5" ry="4.05"/><ellipse cx="208.1" cy="150.4" rx="5" ry="4.05"/><ellipse cx="208.4" cy="160.5" rx="5" ry="4.05"/><ellipse cx="208.6" cy="156.2" rx="5" ry="4.05"/><ellipse cx="208.9" cy="160.5" rx="5" ry="4.05"/><ellipse cx="209.2" cy="150.3" rx="5" ry="4.05"/><ellipse cx="209.5" cy="150.3" rx="5" ry="4.05"/><ellipse cx="209.8" cy="150.3" rx="5" ry="4.05"/><ellipse cx="210.1" cy="154.8" rx="5" ry="4.05"/><ellipse cx="210.3" cy="156.1" rx="5" ry="4.05"/><ellipse cx="210.6" cy="160.4" rx="5" ry="4.05"/><ellipse cx="211.0" cy="160.5" rx="5" ry="4.05"/><ellipse cx="211.2" cy="152.3" rx="5" ry="4.05"/><ellipse cx="211.5" cy="160.3" rx="5" ry="4.05"/><ellipse cx="211.8" cy="150.2" rx="5" ry="4.05"/><ellipse cx="212.0" cy="160.5" rx="5" ry="4.05"/><ellipse cx="212.3" cy="150.2" rx="5" ry="4.05"/><ellipse cx="212.6" cy="151.1" rx="5" ry="4.05"/><ellipse cx="212.9" cy="160.4" rx="5" ry="4.05"/><ellipse cx="213.2" cy="160.4" rx="5" ry="4.05"/><ellipse cx="213.5" cy="155.2" rx="5" ry="4.05"/><ellipse cx="213.8" cy="153.7" rx="5" ry="4.05"/><ellipse cx="214.0" cy="160.4" rx="5" ry="4.05"/><ellipse cx="214.3" cy="155.6" rx="5" ry="4.05"/><ellipse cx="214.7" cy="160.4" rx="5" ry="4.05"/><ellipse cx="214.9" cy="150.0" rx="5" ry="4.05"/><ellipse cx="215.3" cy="152.7" rx="5" ry="4.05"/><ellipse cx="215.5" cy="160.4" rx="5" ry="4.05"/><ellipse cx="215.9" cy="153.3" rx="5" ry="4.05"/><ellipse cx="216.2" cy="158.1" rx="5" ry="4.05"/><ellipse cx="216.4" cy="152.7" rx="5" ry="4.05"/><ellipse cx="216.7" cy="160.4" rx="5" ry="4.05"/><ellipse cx="216.9" cy="160.4" rx="5" ry="4.05"/><ellipse cx="217.2" cy="150.0" rx="5" ry="4.05"/><ellipse cx="217.5" cy="160.4" rx="5" ry="4.05"/><ellipse cx="217.8" cy="158.9" rx="5" ry="4.05"/><ellipse cx="218.1" cy="150.0" rx="5" ry="4.05"/><ellipse cx="218.4" cy="154.4" rx="5" ry="4.05"/><ellipse cx="218.7" cy="155.1" rx="5" ry="4.05"/><ellipse cx="219.0" cy="158.1" rx="5" ry="4.05"/><ellipse cx="219.2" cy="152.3" rx="5" ry="4.05"/><ellipse cx="219.5" cy="160.4" rx="5" ry="4.05"/><ellipse cx="219.8" cy="160.4" rx="5" ry="4.05"/><ellipse cx="220.1" cy="158.4" rx="5" ry="4.05"/><ellipse cx="220.4" cy="149.9" rx="5" ry="4.05"/><ellipse cx="220.6" cy="149.9" rx="5" ry="4.05"/><ellipse cx="220.8" cy="158.1" rx="5" ry="4.05"/><ellipse cx="221.1" cy="157.8" rx="5" ry="4.05"/><ellipse cx="221.5" cy="155.8" rx="5" ry="4.05"/><ellipse cx="221.8" cy="159.6" rx="5" ry="4.05"/><ellipse cx="222.1" cy="149.9" rx="5" ry="4.05"/><ellipse cx="222.3" cy="149.9" rx="5" ry="4.05"/><ellipse cx="222.6" cy="152.7" rx="5" ry="4.05"/><ellipse cx="222.9" cy="149.9" rx="5" ry="4.05"/><ellipse cx="223.2" cy="160.4" rx="5" ry="4.05"/><ellipse cx="223.5" cy="149.9" rx="5" ry="4.05"/><ellipse cx="223.8" cy="150.0" rx="5" ry="4.05"/><ellipse cx="224.1" cy="160.4" rx="5" ry="4.05"/><ellipse cx="224.4" cy="160.4" rx="5" ry="4.05"/><ellipse cx="224.6" cy="158.6" rx="5" ry="4.05"/><ellipse cx="224.9" cy="156.5" rx="5" ry="4.05"/><ellipse cx="225.2" cy="149.7" rx="5" ry="4.05"/><ellipse cx="225.5" cy="156.0" rx="5" ry="4.05"/><ellipse cx="225.8" cy="158.5" rx="5" ry="4.05"/><ellipse cx="226.1" cy="153.1" rx="5" ry="4.05"/><ellipse cx="226.4" cy="160.7" rx="5" ry="4.05"/><ellipse cx="226.6" cy="149.8" rx="5" ry="4.05"/><ellipse cx="227.0" cy="160.4" rx="5" ry="4.05"/><ellipse cx="205.0" cy="86.5" rx="5" ry="4.05"/><ellipse cx="206.5" cy="136.8" rx="5" ry="4.05"/><ellipse cx="227.1" cy="160.9" rx="5" ry="4.05"/><ellipse cx="226.3" cy="148.5" rx="5" ry="4.05"/></g>
<path d="M70.5 160.9H227.7" stroke="#262626" stroke-width="1.3"/>
</g>
<g>
<rect x="294.5" y="7.4" width="156.5" height="154.4" fill="none" stroke="#262626" stroke-width="1.25"/>
<path d="M294.5 161.8v-2.6M294.5 7.4v2.6M372.8 161.8v-2.6M372.8 7.4v2.6M451.0 161.8v-2.6M451.0 7.4v2.6M294.5 161.8h2.6M451.0 161.8h-2.6M294.5 110.4h2.6M451.0 110.4h-2.6M294.5 58.9h2.6M451.0 58.9h-2.6M294.5 7.4h2.6M451.0 7.4h-2.6" stroke="#262626" stroke-width="1.1" fill="none"/>
<path d="M295.3 161.8V161.8M357.1 161.8V58.9M381.4 161.8V122.7M394.5 161.8V141.3M399.2 161.8V152.5M404.4 161.8V154.4M406.7 161.8V158.4" stroke="#0000ff" stroke-width="1.45" fill="none"/>
<g fill="none" stroke="#0000ff" stroke-width="1.55"><ellipse cx="295.3" cy="161.8" rx="5" ry="4.05"/><ellipse cx="357.1" cy="58.9" rx="5" ry="4.05"/><ellipse cx="381.4" cy="122.7" rx="5" ry="4.05"/><ellipse cx="394.5" cy="141.3" rx="5" ry="4.05"/><ellipse cx="399.2" cy="152.5" rx="5" ry="4.05"/><ellipse cx="404.4" cy="154.4" rx="5" ry="4.05"/><ellipse cx="406.7" cy="158.4" rx="5" ry="4.05"/></g>
<path d="M293.9 161.8H451.6" stroke="#262626" stroke-width="1.3"/>
</g>
<g>
<rect x="515.2" y="7.5" width="157.6" height="154.4" fill="none" stroke="#262626" stroke-width="1.25"/>
<path d="M515.2 161.8v-2.6M515.2 7.5v2.6M594.0 161.8v-2.6M594.0 7.5v2.6M672.8 161.8v-2.6M672.8 7.5v2.6M515.2 161.8h2.6M672.8 161.8h-2.6M515.2 84.6h2.6M672.8 84.6h-2.6M515.2 7.4h2.6M672.8 7.4h-2.6" stroke="#262626" stroke-width="1.1" fill="none"/>
<path d="M515.9 161.8V161.4M533.3 161.8V74.4M536.1 161.8V145.3M536.8 161.8V154.7M537.3 161.8V155.6M537.9 161.8V156.8M538.7 161.8V157.9M537.7 161.8V157.7M538.4 161.8V155.4M539.2 161.8V158.2M540.2 161.8V155.3M541.2 161.8V157.4M541.2 161.8V159.1M541.5 161.8V156.5M541.7 161.8V159.2M542.0 161.8V155.5M542.2 161.8V157.4M542.5 161.8V155.5M542.8 161.8V155.8M543.0 161.8V158.6M543.4 161.8V159.4M543.7 161.8V155.8M544.1 161.8V159.0M544.5 161.8V155.8M544.9 161.8V156.1M545.1 161.8V156.1M545.4 161.8V157.9M545.6 161.8V159.7M545.9 161.8V156.2M546.3 161.8V156.4M546.7 161.8V160.1M547.0 161.8V156.6M547.3 161.8V161.6M547.6 161.8V158.1M547.9 161.8V156.8M548.3 161.8V160.8M548.7 161.8V161.6M549.0 161.8V161.2M549.4 161.8V161.2M549.7 161.8V157.3M550.0 161.8V161.6M550.3 161.8V161.6M550.6 161.8V161.6M550.9 161.8V157.7M551.3 161.8V158.6M551.6 161.8V157.8M551.8 161.8V160.3M552.1 161.8V161.6M552.5 161.8V161.6M552.7 161.8V161.6M553.0 161.8V161.1M553.4 161.8V158.1M553.7 161.8V158.1M554.0 161.8V159.0M554.2 161.8V161.6M554.6 161.8V158.1M554.9 161.8V161.6M555.2 161.8V160.2M555.5 161.8V160.6M555.8 161.8V159.7M556.2 161.8V158.1M556.4 161.8V158.0M556.7 161.8V159.4M557.4 161.8V158.0M558.3 161.8V158.7M559.3 161.8V158.0M560.1 161.8V158.0M561.1 161.8V158.3M562.1 161.8V158.2M562.8 161.8V158.3M563.7 161.8V158.1M560.0 161.8V148.2M563.7 161.8V148.2M567.8 161.8V148.5M573.7 161.8V140.2M566.7 161.8V158.0M568.9 161.8V157.6M603.8 161.8V12.9M605.8 161.8V152.6M611.5 161.8V132.5M635.4 161.8V48.7M648.1 161.8V99.0M648.8 161.8V156.0" stroke="#0000ff" stroke-width="1.45" fill="none"/>
<g fill="none" stroke="#0000ff" stroke-width="1.55"><ellipse cx="515.9" cy="161.4" rx="5" ry="4.05"/><ellipse cx="533.3" cy="74.4" rx="5" ry="4.05"/><ellipse cx="536.1" cy="145.3" rx="5" ry="4.05"/><ellipse cx="536.8" cy="154.7" rx="5" ry="4.05"/><ellipse cx="537.3" cy="155.6" rx="5" ry="4.05"/><ellipse cx="537.9" cy="156.8" rx="5" ry="4.05"/><ellipse cx="538.7" cy="157.9" rx="5" ry="4.05"/><ellipse cx="537.7" cy="157.7" rx="5" ry="4.05"/><ellipse cx="538.4" cy="155.4" rx="5" ry="4.05"/><ellipse cx="539.2" cy="158.2" rx="5" ry="4.05"/><ellipse cx="540.2" cy="155.3" rx="5" ry="4.05"/><ellipse cx="541.2" cy="157.4" rx="5" ry="4.05"/><ellipse cx="541.2" cy="159.1" rx="5" ry="4.05"/><ellipse cx="541.5" cy="156.5" rx="5" ry="4.05"/><ellipse cx="541.7" cy="159.2" rx="5" ry="4.05"/><ellipse cx="542.0" cy="155.5" rx="5" ry="4.05"/><ellipse cx="542.2" cy="157.4" rx="5" ry="4.05"/><ellipse cx="542.5" cy="155.5" rx="5" ry="4.05"/><ellipse cx="542.8" cy="155.8" rx="5" ry="4.05"/><ellipse cx="543.0" cy="158.6" rx="5" ry="4.05"/><ellipse cx="543.4" cy="159.4" rx="5" ry="4.05"/><ellipse cx="543.7" cy="155.8" rx="5" ry="4.05"/><ellipse cx="544.1" cy="159.0" rx="5" ry="4.05"/><ellipse cx="544.5" cy="155.8" rx="5" ry="4.05"/><ellipse cx="544.9" cy="156.1" rx="5" ry="4.05"/><ellipse cx="545.1" cy="156.1" rx="5" ry="4.05"/><ellipse cx="545.4" cy="157.9" rx="5" ry="4.05"/><ellipse cx="545.6" cy="159.7" rx="5" ry="4.05"/><ellipse cx="545.9" cy="156.2" rx="5" ry="4.05"/><ellipse cx="546.3" cy="156.4" rx="5" ry="4.05"/><ellipse cx="546.7" cy="160.1" rx="5" ry="4.05"/><ellipse cx="547.0" cy="156.6" rx="5" ry="4.05"/><ellipse cx="547.3" cy="161.6" rx="5" ry="4.05"/><ellipse cx="547.6" cy="158.1" rx="5" ry="4.05"/><ellipse cx="547.9" cy="156.8" rx="5" ry="4.05"/><ellipse cx="548.3" cy="160.8" rx="5" ry="4.05"/><ellipse cx="548.7" cy="161.6" rx="5" ry="4.05"/><ellipse cx="549.0" cy="161.2" rx="5" ry="4.05"/><ellipse cx="549.4" cy="161.2" rx="5" ry="4.05"/><ellipse cx="549.7" cy="157.3" rx="5" ry="4.05"/><ellipse cx="550.0" cy="161.6" rx="5" ry="4.05"/><ellipse cx="550.3" cy="161.6" rx="5" ry="4.05"/><ellipse cx="550.6" cy="161.6" rx="5" ry="4.05"/><ellipse cx="550.9" cy="157.7" rx="5" ry="4.05"/><ellipse cx="551.3" cy="158.6" rx="5" ry="4.05"/><ellipse cx="551.6" cy="157.8" rx="5" ry="4.05"/><ellipse cx="551.8" cy="160.3" rx="5" ry="4.05"/><ellipse cx="552.1" cy="161.6" rx="5" ry="4.05"/><ellipse cx="552.5" cy="161.6" rx="5" ry="4.05"/><ellipse cx="552.7" cy="161.6" rx="5" ry="4.05"/><ellipse cx="553.0" cy="161.1" rx="5" ry="4.05"/><ellipse cx="553.4" cy="158.1" rx="5" ry="4.05"/><ellipse cx="553.7" cy="158.1" rx="5" ry="4.05"/><ellipse cx="554.0" cy="159.0" rx="5" ry="4.05"/><ellipse cx="554.2" cy="161.6" rx="5" ry="4.05"/><ellipse cx="554.6" cy="158.1" rx="5" ry="4.05"/><ellipse cx="554.9" cy="161.6" rx="5" ry="4.05"/><ellipse cx="555.2" cy="160.2" rx="5" ry="4.05"/><ellipse cx="555.5" cy="160.6" rx="5" ry="4.05"/><ellipse cx="555.8" cy="159.7" rx="5" ry="4.05"/><ellipse cx="556.2" cy="158.1" rx="5" ry="4.05"/><ellipse cx="556.4" cy="158.0" rx="5" ry="4.05"/><ellipse cx="556.7" cy="159.4" rx="5" ry="4.05"/><ellipse cx="557.4" cy="158.0" rx="5" ry="4.05"/><ellipse cx="558.3" cy="158.7" rx="5" ry="4.05"/><ellipse cx="559.3" cy="158.0" rx="5" ry="4.05"/><ellipse cx="560.1" cy="158.0" rx="5" ry="4.05"/><ellipse cx="561.1" cy="158.3" rx="5" ry="4.05"/><ellipse cx="562.1" cy="158.2" rx="5" ry="4.05"/><ellipse cx="562.8" cy="158.3" rx="5" ry="4.05"/><ellipse cx="563.7" cy="158.1" rx="5" ry="4.05"/><ellipse cx="560.0" cy="148.2" rx="5" ry="4.05"/><ellipse cx="563.7" cy="148.2" rx="5" ry="4.05"/><ellipse cx="567.8" cy="148.5" rx="5" ry="4.05"/><ellipse cx="573.7" cy="140.2" rx="5" ry="4.05"/><ellipse cx="566.7" cy="158.0" rx="5" ry="4.05"/><ellipse cx="568.9" cy="157.6" rx="5" ry="4.05"/><ellipse cx="603.8" cy="12.9" rx="5" ry="4.05"/><ellipse cx="605.8" cy="152.6" rx="5" ry="4.05"/><ellipse cx="611.5" cy="132.5" rx="5" ry="4.05"/><ellipse cx="635.4" cy="48.7" rx="5" ry="4.05"/><ellipse cx="648.1" cy="99.0" rx="5" ry="4.05"/><ellipse cx="648.8" cy="156.0" rx="5" ry="4.05"/></g>
<path d="M514.6 161.8H673.4" stroke="#262626" stroke-width="1.3"/>
</g>
<g>
<rect x="71.1" y="230.4" width="156.1" height="153.2" fill="none" stroke="#262626" stroke-width="1.25"/>
<path d="M71.1 383.6v-2.6M71.1 230.4v2.6M149.1 383.6v-2.6M149.1 230.4v2.6M227.2 383.6v-2.6M227.2 230.4v2.6M71.1 383.6h2.6M227.2 383.6h-2.6M71.1 307.0h2.6M227.2 307.0h-2.6M71.1 230.4h2.6M227.2 230.4h-2.6" stroke="#262626" stroke-width="1.1" fill="none"/>
<path d="M71.1 383.6V380.6M71.5 383.6V381.5M71.7 383.6V381.9M72.0 383.6V377.5M72.7 383.6V379.4M73.2 383.6V378.7M73.8 383.6V379.5M74.3 383.6V380.5M74.7 383.6V378.3M75.3 383.6V379.3M75.9 383.6V377.9M76.6 383.6V378.6M77.2 383.6V377.5M77.9 383.6V380.0M78.4 383.6V381.7M78.6 383.6V381.7M78.8 383.6V377.0M79.6 383.6V381.2M79.9 383.6V376.3M80.8 383.6V376.7M81.7 383.6V382.2M81.9 383.6V375.0M82.9 383.6V382.5M83.2 383.6V374.2M84.3 383.6V374.5M85.4 383.6V380.7M85.8 383.6V375.6M86.8 383.6V375.5M87.8 383.6V381.6M88.0 383.6V376.2M88.9 383.6V381.6M89.2 383.6V373.7M90.4 383.6V376.0M91.3 383.6V373.1M92.6 383.6V382.3M92.8 383.6V379.7M93.3 383.6V376.7M94.2 383.6V376.8M95.0 383.6V381.1M95.3 383.6V375.0M96.3 383.6V376.3M97.2 383.6V380.5M97.6 383.6V381.7M97.8 383.6V377.7M98.6 383.6V379.7M99.0 383.6V377.8M99.7 383.6V379.1M100.3 383.6V379.8M100.8 383.6V382.7M101.0 383.6V381.8M101.2 383.6V379.3M101.8 383.6V377.3M102.5 383.6V379.6M103.0 383.6V377.1M103.8 383.6V378.7M104.4 383.6V377.3M105.2 383.6V380.2M105.6 383.6V382.2M105.8 383.6V383.0M106.1 383.6V383.3M106.3 383.6V383.4M106.5 383.6V379.8M107.0 383.6V379.7M107.5 383.6V380.3M107.9 383.6V383.1M108.1 383.6V380.7M108.5 383.6V383.0M108.7 383.6V379.7M109.2 383.6V380.7M109.5 383.6V380.3M109.9 383.6V380.9M110.3 383.6V381.8M110.5 383.6V379.9M111.0 383.6V379.4M111.5 383.6V382.5M111.7 383.6V381.7M111.9 383.6V380.4M112.3 383.6V380.6M112.7 383.6V381.8M112.9 383.6V381.6M113.2 383.6V379.3M113.7 383.6V382.4M113.9 383.6V382.7M114.2 383.6V380.6M114.5 383.6V382.4M114.8 383.6V379.6M115.3 383.6V382.2M115.5 383.6V379.5M116.0 383.6V381.9M116.2 383.6V379.7M116.7 383.6V380.3M117.1 383.6V380.4M117.5 383.6V382.7M117.7 383.6V382.9M118.0 383.6V383.5M118.2 383.6V382.8M118.4 383.6V380.7M118.8 383.6V383.3M119.0 383.6V382.6M119.3 383.6V381.1M119.6 383.6V382.9M119.8 383.6V382.2M120.0 383.6V382.6M120.3 383.6V380.6M120.6 383.6V383.1M120.9 383.6V379.2M121.4 383.6V381.0M121.7 383.6V380.5M122.1 383.6V381.2M122.4 383.6V381.4M122.7 383.6V379.3M123.2 383.6V379.7M123.7 383.6V380.0M124.1 383.6V383.5M124.4 383.6V381.0M124.7 383.6V379.5M106.7 383.6V363.7M129.7 383.6V361.7M123.7 383.6V372.9M125.3 383.6V379.8M160.4 383.6V231.9M169.9 383.6V335.7M199.3 383.6V240.7M202.3 383.6V365.0M203.5 383.6V378.6" stroke="#0000ff" stroke-width="1.45" fill="none"/>
<g fill="none" stroke="#0000ff" stroke-width="1.55"><ellipse cx="71.1" cy="380.6" rx="5" ry="4.05"/><ellipse cx="71.5" cy="381.5" rx="5" ry="4.05"/><ellipse cx="71.7" cy="381.9" rx="5" ry="4.05"/><ellipse cx="72.0" cy="377.5" rx="5" ry="4.05"/><ellipse cx="72.7" cy="379.4" rx="5" ry="4.05"/><ellipse cx="73.2" cy="378.7" rx="5" ry="4.05"/><ellipse cx="73.8" cy="379.5" rx="5" ry="4.05"/><ellipse cx="74.3" cy="380.5" rx="5" ry="4.05"/><ellipse cx="74.7" cy="378.3" rx="5" ry="4.05"/><ellipse cx="75.3" cy="379.3" rx="5" ry="4.05"/><ellipse cx="75.9" cy="377.9" rx="5" ry="4.05"/><ellipse cx="76.6" cy="378.6" rx="5" ry="4.05"/><ellipse cx="77.2" cy="377.5" rx="5" ry="4.05"/><ellipse cx="77.9" cy="380.0" rx="5" ry="4.05"/><ellipse cx="78.4" cy="381.7" rx="5" ry="4.05"/><ellipse cx="78.6" cy="381.7" rx="5" ry="4.05"/><ellipse cx="78.8" cy="377.0" rx="5" ry="4.05"/><ellipse cx="79.6" cy="381.2" rx="5" ry="4.05"/><ellipse cx="79.9" cy="376.3" rx="5" ry="4.05"/><ellipse cx="80.8" cy="376.7" rx="5" ry="4.05"/><ellipse cx="81.7" cy="382.2" rx="5" ry="4.05"/><ellipse cx="81.9" cy="375.0" rx="5" ry="4.05"/><ellipse cx="82.9" cy="382.5" rx="5" ry="4.05"/><ellipse cx="83.2" cy="374.2" rx="5" ry="4.05"/><ellipse cx="84.3" cy="374.5" rx="5" ry="4.05"/><ellipse cx="85.4" cy="380.7" rx="5" ry="4.05"/><ellipse cx="85.8" cy="375.6" rx="5" ry="4.05"/><ellipse cx="86.8" cy="375.5" rx="5" ry="4.05"/><ellipse cx="87.8" cy="381.6" rx="5" ry="4.05"/><ellipse cx="88.0" cy="376.2" rx="5" ry="4.05"/><ellipse cx="88.9" cy="381.6" rx="5" ry="4.05"/><ellipse cx="89.2" cy="373.7" rx="5" ry="4.05"/><ellipse cx="90.4" cy="376.0" rx="5" ry="4.05"/><ellipse cx="91.3" cy="373.1" rx="5" ry="4.05"/><ellipse cx="92.6" cy="382.3" rx="5" ry="4.05"/><ellipse cx="92.8" cy="379.7" rx="5" ry="4.05"/><ellipse cx="93.3" cy="376.7" rx="5" ry="4.05"/><ellipse cx="94.2" cy="376.8" rx="5" ry="4.05"/><ellipse cx="95.0" cy="381.1" rx="5" ry="4.05"/><ellipse cx="95.3" cy="375.0" rx="5" ry="4.05"/><ellipse cx="96.3" cy="376.3" rx="5" ry="4.05"/><ellipse cx="97.2" cy="380.5" rx="5" ry="4.05"/><ellipse cx="97.6" cy="381.7" rx="5" ry="4.05"/><ellipse cx="97.8" cy="377.7" rx="5" ry="4.05"/><ellipse cx="98.6" cy="379.7" rx="5" ry="4.05"/><ellipse cx="99.0" cy="377.8" rx="5" ry="4.05"/><ellipse cx="99.7" cy="379.1" rx="5" ry="4.05"/><ellipse cx="100.3" cy="379.8" rx="5" ry="4.05"/><ellipse cx="100.8" cy="382.7" rx="5" ry="4.05"/><ellipse cx="101.0" cy="381.8" rx="5" ry="4.05"/><ellipse cx="101.2" cy="379.3" rx="5" ry="4.05"/><ellipse cx="101.8" cy="377.3" rx="5" ry="4.05"/><ellipse cx="102.5" cy="379.6" rx="5" ry="4.05"/><ellipse cx="103.0" cy="377.1" rx="5" ry="4.05"/><ellipse cx="103.8" cy="378.7" rx="5" ry="4.05"/><ellipse cx="104.4" cy="377.3" rx="5" ry="4.05"/><ellipse cx="105.2" cy="380.2" rx="5" ry="4.05"/><ellipse cx="105.6" cy="382.2" rx="5" ry="4.05"/><ellipse cx="105.8" cy="383.0" rx="5" ry="4.05"/><ellipse cx="106.1" cy="383.3" rx="5" ry="4.05"/><ellipse cx="106.3" cy="383.4" rx="5" ry="4.05"/><ellipse cx="106.5" cy="379.8" rx="5" ry="4.05"/><ellipse cx="107.0" cy="379.7" rx="5" ry="4.05"/><ellipse cx="107.5" cy="380.3" rx="5" ry="4.05"/><ellipse cx="107.9" cy="383.1" rx="5" ry="4.05"/><ellipse cx="108.1" cy="380.7" rx="5" ry="4.05"/><ellipse cx="108.5" cy="383.0" rx="5" ry="4.05"/><ellipse cx="108.7" cy="379.7" rx="5" ry="4.05"/><ellipse cx="109.2" cy="380.7" rx="5" ry="4.05"/><ellipse cx="109.5" cy="380.3" rx="5" ry="4.05"/><ellipse cx="109.9" cy="380.9" rx="5" ry="4.05"/><ellipse cx="110.3" cy="381.8" rx="5" ry="4.05"/><ellipse cx="110.5" cy="379.9" rx="5" ry="4.05"/><ellipse cx="111.0" cy="379.4" rx="5" ry="4.05"/><ellipse cx="111.5" cy="382.5" rx="5" ry="4.05"/><ellipse cx="111.7" cy="381.7" rx="5" ry="4.05"/><ellipse cx="111.9" cy="380.4" rx="5" ry="4.05"/><ellipse cx="112.3" cy="380.6" rx="5" ry="4.05"/><ellipse cx="112.7" cy="381.8" rx="5" ry="4.05"/><ellipse cx="112.9" cy="381.6" rx="5" ry="4.05"/><ellipse cx="113.2" cy="379.3" rx="5" ry="4.05"/><ellipse cx="113.7" cy="382.4" rx="5" ry="4.05"/><ellipse cx="113.9" cy="382.7" rx="5" ry="4.05"/><ellipse cx="114.2" cy="380.6" rx="5" ry="4.05"/><ellipse cx="114.5" cy="382.4" rx="5" ry="4.05"/><ellipse cx="114.8" cy="379.6" rx="5" ry="4.05"/><ellipse cx="115.3" cy="382.2" rx="5" ry="4.05"/><ellipse cx="115.5" cy="379.5" rx="5" ry="4.05"/><ellipse cx="116.0" cy="381.9" rx="5" ry="4.05"/><ellipse cx="116.2" cy="379.7" rx="5" ry="4.05"/><ellipse cx="116.7" cy="380.3" rx="5" ry="4.05"/><ellipse cx="117.1" cy="380.4" rx="5" ry="4.05"/><ellipse cx="117.5" cy="382.7" rx="5" ry="4.05"/><ellipse cx="117.7" cy="382.9" rx="5" ry="4.05"/><ellipse cx="118.0" cy="383.5" rx="5" ry="4.05"/><ellipse cx="118.2" cy="382.8" rx="5" ry="4.05"/><ellipse cx="118.4" cy="380.7" rx="5" ry="4.05"/><ellipse cx="118.8" cy="383.3" rx="5" ry="4.05"/><ellipse cx="119.0" cy="382.6" rx="5" ry="4.05"/><ellipse cx="119.3" cy="381.1" rx="5" ry="4.05"/><ellipse cx="119.6" cy="382.9" rx="5" ry="4.05"/><ellipse cx="119.8" cy="382.2" rx="5" ry="4.05"/><ellipse cx="120.0" cy="382.6" rx="5" ry="4.05"/><ellipse cx="120.3" cy="380.6" rx="5" ry="4.05"/><ellipse cx="120.6" cy="383.1" rx="5" ry="4.05"/><ellipse cx="120.9" cy="379.2" rx="5" ry="4.05"/><ellipse cx="121.4" cy="381.0" rx="5" ry="4.05"/><ellipse cx="121.7" cy="380.5" rx="5" ry="4.05"/><ellipse cx="122.1" cy="381.2" rx="5" ry="4.05"/><ellipse cx="122.4" cy="381.4" rx="5" ry="4.05"/><ellipse cx="122.7" cy="379.3" rx="5" ry="4.05"/><ellipse cx="123.2" cy="379.7" rx="5" ry="4.05"/><ellipse cx="123.7" cy="380.0" rx="5" ry="4.05"/><ellipse cx="124.1" cy="383.5" rx="5" ry="4.05"/><ellipse cx="124.4" cy="381.0" rx="5" ry="4.05"/><ellipse cx="124.7" cy="379.5" rx="5" ry="4.05"/><ellipse cx="106.7" cy="363.7" rx="5" ry="4.05"/><ellipse cx="129.7" cy="361.7" rx="5" ry="4.05"/><ellipse cx="123.7" cy="372.9" rx="5" ry="4.05"/><ellipse cx="125.3" cy="379.8" rx="5" ry="4.05"/><ellipse cx="160.4" cy="231.9" rx="5" ry="4.05"/><ellipse cx="169.9" cy="335.7" rx="5" ry="4.05"/><ellipse cx="199.3" cy="240.7" rx="5" ry="4.05"/><ellipse cx="202.3" cy="365.0" rx="5" ry="4.05"/><ellipse cx="203.5" cy="378.6" rx="5" ry="4.05"/></g>
<path d="M70.5 383.6H227.8" stroke="#262626" stroke-width="1.3"/>
</g>
<g>
<rect x="314.7" y="230.3" width="156.2" height="153.2" fill="none" stroke="#262626" stroke-width="1.25"/>
<path d="M314.7 383.5v-2.6M314.7 230.3v2.6M392.8 383.5v-2.6M392.8 230.3v2.6M470.9 383.5v-2.6M470.9 230.3v2.6M314.7 383.5h2.6M470.9 383.5h-2.6M314.7 332.4h2.6M470.9 332.4h-2.6M314.7 281.4h2.6M470.9 281.4h-2.6M314.7 230.3h2.6M470.9 230.3h-2.6" stroke="#262626" stroke-width="1.1" fill="none"/>
<path d="M315.3 383.5V382.7M328.8 383.5V337.0M331.2 383.5V373.7M334.7 383.5V373.9M332.7 383.5V375.9M333.9 383.5V379.0M334.9 383.5V376.8M336.4 383.5V379.0M337.3 383.5V378.9M338.1 383.5V380.8M338.4 383.5V379.0M338.7 383.5V378.9M339.1 383.5V379.0M339.4 383.5V380.2M339.8 383.5V382.0M340.2 383.5V382.2M340.5 383.5V380.2M340.9 383.5V382.6M341.3 383.5V380.7M341.6 383.5V383.1M341.9 383.5V380.5M342.3 383.5V380.6M342.6 383.5V383.4M342.9 383.5V383.5M343.2 383.5V383.4M343.5 383.5V380.6M343.7 383.5V382.4M344.0 383.5V380.6M344.4 383.5V380.6M344.8 383.5V380.6M345.1 383.5V380.6M345.5 383.5V380.6M345.7 383.5V382.2M346.0 383.5V380.6M346.4 383.5V383.4M346.7 383.5V383.4M347.0 383.5V383.4M347.3 383.5V380.6M347.7 383.5V382.6M347.9 383.5V381.5M348.3 383.5V383.2M348.7 383.5V383.4M349.0 383.5V380.6M349.4 383.5V380.4M349.7 383.5V380.2M350.0 383.5V383.4M350.3 383.5V379.8M350.6 383.5V383.4M350.9 383.5V383.4M351.3 383.5V380.5M351.6 383.5V381.2M351.9 383.5V383.5M352.3 383.5V382.8M352.5 383.5V381.2M352.8 383.5V383.4M353.1 383.5V383.4M353.3 383.5V383.4M353.7 383.5V383.4M354.0 383.5V380.7M354.3 383.5V383.4M354.6 383.5V380.7M354.8 383.5V380.7M355.2 383.5V380.7M355.6 383.5V383.4M355.9 383.5V381.7M356.2 383.5V382.3M356.6 383.5V381.1M356.9 383.5V380.7M357.2 383.5V380.8M357.5 383.5V380.8M357.9 383.5V381.0M358.3 383.5V380.8M358.5 383.5V381.9M358.8 383.5V380.9M359.0 383.5V381.9M359.3 383.5V381.9M359.6 383.5V382.0M360.0 383.5V381.6M360.3 383.5V381.0M360.5 383.5V381.7M359.9 383.5V373.3M368.7 383.5V372.0M364.7 383.5V374.2M374.8 383.5V375.8M367.3 383.5V383.5M371.3 383.5V383.5M361.2 383.5V379.7M362.0 383.5V376.9M362.7 383.5V380.9M363.5 383.5V378.4M363.9 383.5V375.8M362.3 383.5V375.1M361.6 383.5V382.2M364.3 383.5V380.4M411.2 383.5V257.6M412.2 383.5V380.5M447.0 383.5V271.2M454.0 383.5V360.5" stroke="#0000ff" stroke-width="1.45" fill="none"/>
<g fill="none" stroke="#0000ff" stroke-width="1.55"><ellipse cx="315.3" cy="382.7" rx="5" ry="4.05"/><ellipse cx="328.8" cy="337.0" rx="5" ry="4.05"/><ellipse cx="331.2" cy="373.7" rx="5" ry="4.05"/><ellipse cx="334.7" cy="373.9" rx="5" ry="4.05"/><ellipse cx="332.7" cy="375.9" rx="5" ry="4.05"/><ellipse cx="333.9" cy="379.0" rx="5" ry="4.05"/><ellipse cx="334.9" cy="376.8" rx="5" ry="4.05"/><ellipse cx="336.4" cy="379.0" rx="5" ry="4.05"/><ellipse cx="337.3" cy="378.9" rx="5" ry="4.05"/><ellipse cx="338.1" cy="380.8" rx="5" ry="4.05"/><ellipse cx="338.4" cy="379.0" rx="5" ry="4.05"/><ellipse cx="338.7" cy="378.9" rx="5" ry="4.05"/><ellipse cx="339.1" cy="379.0" rx="5" ry="4.05"/><ellipse cx="339.4" cy="380.2" rx="5" ry="4.05"/><ellipse cx="339.8" cy="382.0" rx="5" ry="4.05"/><ellipse cx="340.2" cy="382.2" rx="5" ry="4.05"/><ellipse cx="340.5" cy="380.2" rx="5" ry="4.05"/><ellipse cx="340.9" cy="382.6" rx="5" ry="4.05"/><ellipse cx="341.3" cy="380.7" rx="5" ry="4.05"/><ellipse cx="341.6" cy="383.1" rx="5" ry="4.05"/><ellipse cx="341.9" cy="380.5" rx="5" ry="4.05"/><ellipse cx="342.3" cy="380.6" rx="5" ry="4.05"/><ellipse cx="342.6" cy="383.4" rx="5" ry="4.05"/><ellipse cx="342.9" cy="383.5" rx="5" ry="4.05"/><ellipse cx="343.2" cy="383.4" rx="5" ry="4.05"/><ellipse cx="343.5" cy="380.6" rx="5" ry="4.05"/><ellipse cx="343.7" cy="382.4" rx="5" ry="4.05"/><ellipse cx="344.0" cy="380.6" rx="5" ry="4.05"/><ellipse cx="344.4" cy="380.6" rx="5" ry="4.05"/><ellipse cx="344.8" cy="380.6" rx="5" ry="4.05"/><ellipse cx="345.1" cy="380.6" rx="5" ry="4.05"/><ellipse cx="345.5" cy="380.6" rx="5" ry="4.05"/><ellipse cx="345.7" cy="382.2" rx="5" ry="4.05"/><ellipse cx="346.0" cy="380.6" rx="5" ry="4.05"/><ellipse cx="346.4" cy="383.4" rx="5" ry="4.05"/><ellipse cx="346.7" cy="383.4" rx="5" ry="4.05"/><ellipse cx="347.0" cy="383.4" rx="5" ry="4.05"/><ellipse cx="347.3" cy="380.6" rx="5" ry="4.05"/><ellipse cx="347.7" cy="382.6" rx="5" ry="4.05"/><ellipse cx="347.9" cy="381.5" rx="5" ry="4.05"/><ellipse cx="348.3" cy="383.2" rx="5" ry="4.05"/><ellipse cx="348.7" cy="383.4" rx="5" ry="4.05"/><ellipse cx="349.0" cy="380.6" rx="5" ry="4.05"/><ellipse cx="349.4" cy="380.4" rx="5" ry="4.05"/><ellipse cx="349.7" cy="380.2" rx="5" ry="4.05"/><ellipse cx="350.0" cy="383.4" rx="5" ry="4.05"/><ellipse cx="350.3" cy="379.8" rx="5" ry="4.05"/><ellipse cx="350.6" cy="383.4" rx="5" ry="4.05"/><ellipse cx="350.9" cy="383.4" rx="5" ry="4.05"/><ellipse cx="351.3" cy="380.5" rx="5" ry="4.05"/><ellipse cx="351.6" cy="381.2" rx="5" ry="4.05"/><ellipse cx="351.9" cy="383.5" rx="5" ry="4.05"/><ellipse cx="352.3" cy="382.8" rx="5" ry="4.05"/><ellipse cx="352.5" cy="381.2" rx="5" ry="4.05"/><ellipse cx="352.8" cy="383.4" rx="5" ry="4.05"/><ellipse cx="353.1" cy="383.4" rx="5" ry="4.05"/><ellipse cx="353.3" cy="383.4" rx="5" ry="4.05"/><ellipse cx="353.7" cy="383.4" rx="5" ry="4.05"/><ellipse cx="354.0" cy="380.7" rx="5" ry="4.05"/><ellipse cx="354.3" cy="383.4" rx="5" ry="4.05"/><ellipse cx="354.6" cy="380.7" rx="5" ry="4.05"/><ellipse cx="354.8" cy="380.7" rx="5" ry="4.05"/><ellipse cx="355.2" cy="380.7" rx="5" ry="4.05"/><ellipse cx="355.6" cy="383.4" rx="5" ry="4.05"/><ellipse cx="355.9" cy="381.7" rx="5" ry="4.05"/><ellipse cx="356.2" cy="382.3" rx="5" ry="4.05"/><ellipse cx="356.6" cy="381.1" rx="5" ry="4.05"/><ellipse cx="356.9" cy="380.7" rx="5" ry="4.05"/><ellipse cx="357.2" cy="380.8" rx="5" ry="4.05"/><ellipse cx="357.5" cy="380.8" rx="5" ry="4.05"/><ellipse cx="357.9" cy="381.0" rx="5" ry="4.05"/><ellipse cx="358.3" cy="380.8" rx="5" ry="4.05"/><ellipse cx="358.5" cy="381.9" rx="5" ry="4.05"/><ellipse cx="358.8" cy="380.9" rx="5" ry="4.05"/><ellipse cx="359.0" cy="381.9" rx="5" ry="4.05"/><ellipse cx="359.3" cy="381.9" rx="5" ry="4.05"/><ellipse cx="359.6" cy="382.0" rx="5" ry="4.05"/><ellipse cx="360.0" cy="381.6" rx="5" ry="4.05"/><ellipse cx="360.3" cy="381.0" rx="5" ry="4.05"/><ellipse cx="360.5" cy="381.7" rx="5" ry="4.05"/><ellipse cx="359.9" cy="373.3" rx="5" ry="4.05"/><ellipse cx="368.7" cy="372.0" rx="5" ry="4.05"/><ellipse cx="364.7" cy="374.2" rx="5" ry="4.05"/><ellipse cx="374.8" cy="375.8" rx="5" ry="4.05"/><ellipse cx="367.3" cy="383.5" rx="5" ry="4.05"/><ellipse cx="371.3" cy="383.5" rx="5" ry="4.05"/><ellipse cx="361.2" cy="379.7" rx="5" ry="4.05"/><ellipse cx="362.0" cy="376.9" rx="5" ry="4.05"/><ellipse cx="362.7" cy="380.9" rx="5" ry="4.05"/><ellipse cx="363.5" cy="378.4" rx="5" ry="4.05"/><ellipse cx="363.9" cy="375.8" rx="5" ry="4.05"/><ellipse cx="362.3" cy="375.1" rx="5" ry="4.05"/><ellipse cx="361.6" cy="382.2" rx="5" ry="4.05"/><ellipse cx="364.3" cy="380.4" rx="5" ry="4.05"/><ellipse cx="411.2" cy="257.6" rx="5" ry="4.05"/><ellipse cx="412.2" cy="380.5" rx="5" ry="4.05"/><ellipse cx="447.0" cy="271.2" rx="5" ry="4.05"/><ellipse cx="454.0" cy="360.5" rx="5" ry="4.05"/></g>
<path d="M314.1 383.5H471.5" stroke="#262626" stroke-width="1.3"/>
</g>
<g opacity="0.97">
<text class="m" transform="translate(70.8 187.8) scale(1.220 1)">0</text><text class="m" transform="translate(148.8 187.8) scale(1.220 1)">10</text><text class="m" transform="translate(226.8 187.8) scale(1.220 1)">20</text><text class="e" transform="translate(61.5 168.6) scale(1.220 1)">0</text><text class="e" transform="translate(61.5 117.0) scale(1.220 1)">0.5</text><text class="e" transform="translate(61.5 65.5) scale(1.220 1)">1</text><text class="e" transform="translate(61.5 13.9) scale(1.220 1)">1.5</text>
<text class="m l" transform="translate(19.2 84.9) scale(1.220 1) rotate(-90)">Agent 1</text>
<text class="m" transform="translate(294.2 188.8) scale(1.220 1)">0</text><text class="m" transform="translate(372.4 188.8) scale(1.220 1)">5</text><text class="m" transform="translate(450.7 188.8) scale(1.220 1)">10</text><text class="e" transform="translate(284.9 169.5) scale(1.220 1)">0</text><text class="e" transform="translate(284.9 118.1) scale(1.220 1)">2</text><text class="e" transform="translate(284.9 66.6) scale(1.220 1)">4</text><text class="e" transform="translate(284.9 15.1) scale(1.220 1)">6</text>
<text class="m l" transform="translate(258.5 84.5) scale(1.220 1) rotate(-90)">Agent 2</text>
<text class="m" transform="translate(514.9 188.8) scale(1.220 1)">0</text><text class="m" transform="translate(593.7 188.8) scale(1.220 1)">10</text><text class="m" transform="translate(672.5 188.8) scale(1.220 1)">20</text><text class="e" transform="translate(505.6 169.5) scale(1.220 1)">0</text><text class="e" transform="translate(505.6 92.3) scale(1.220 1)">2</text><text class="e" transform="translate(505.6 15.1) scale(1.220 1)">4</text>
<text class="m l" transform="translate(480.2 84.8) scale(1.220 1) rotate(-90)">Agent 3</text>
<text class="m" transform="translate(70.8 410.9) scale(1.220 1)">0</text><text class="m" transform="translate(148.8 410.9) scale(1.220 1)">10</text><text class="m" transform="translate(226.9 410.9) scale(1.220 1)">20</text><text class="e" transform="translate(61.5 391.3) scale(1.220 1)">0</text><text class="e" transform="translate(61.5 314.7) scale(1.220 1)">2</text><text class="e" transform="translate(61.5 238.1) scale(1.220 1)">4</text>
<text class="m l" transform="translate(36.6 306.6) scale(1.220 1) rotate(-90)">Agent 4</text>
<text class="m" transform="translate(314.4 410.8) scale(1.220 1)">0</text><text class="m" transform="translate(392.5 410.8) scale(1.220 1)">10</text><text class="m" transform="translate(470.6 410.8) scale(1.220 1)">20</text><text class="e" transform="translate(305.1 391.2) scale(1.220 1)">0</text><text class="e" transform="translate(305.1 340.1) scale(1.220 1)">2</text><text class="e" transform="translate(305.1 289.1) scale(1.220 1)">4</text><text class="e" transform="translate(305.1 238.0) scale(1.220 1)">6</text>
<text class="m l" transform="translate(280.2 306.3) scale(1.220 1) rotate(-90)">Agent 5</text>
<text class="m s" transform="translate(392.5 434.5) scale(1.285 1)">Time(Sec)</text>
</g>
</svg>
</body></html>
